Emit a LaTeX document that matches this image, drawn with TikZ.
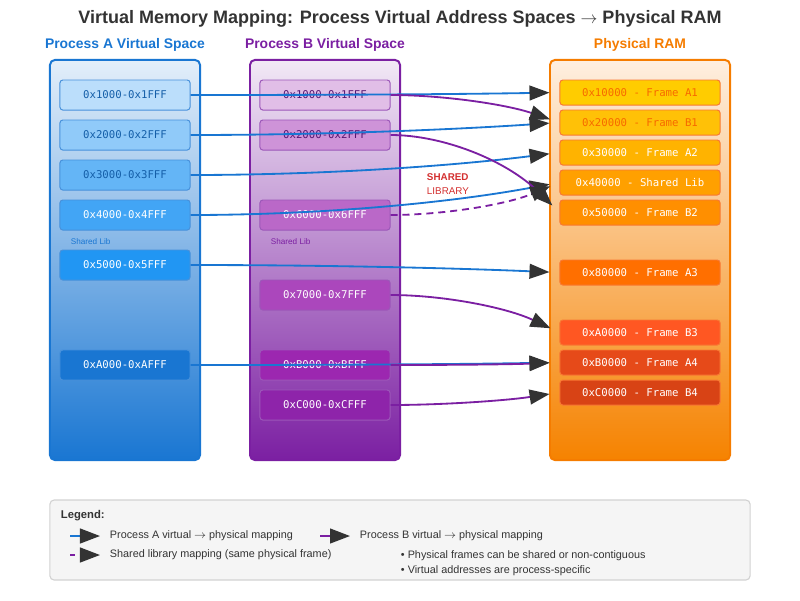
\documentclass[tikz,border=0pt]{standalone}
\usepackage{fontspec}
\setmainfont{Liberation Sans}
\setmonofont{DejaVu Sans Mono}
\usetikzlibrary{arrows.meta,calc}

\definecolor{titlegray}{HTML}{333333}
\definecolor{procA}{HTML}{1976D2}
\definecolor{procB}{HTML}{7B1FA2}
\definecolor{ram}{HTML}{F57C00}
\definecolor{tipgray}{HTML}{333333}
\definecolor{libred}{HTML}{D32F2F}
% page and frame fills
\definecolor{pa1}{HTML}{BBDEFB}\definecolor{pa2}{HTML}{90CAF9}\definecolor{pa3}{HTML}{64B5F6}
\definecolor{pa4}{HTML}{42A5F5}\definecolor{pa5}{HTML}{2196F3}\definecolor{pa10}{HTML}{1976D2}
\definecolor{pb1}{HTML}{E1BEE7}\definecolor{pb2}{HTML}{CE93D8}\definecolor{pb6}{HTML}{BA68C8}
\definecolor{pb7}{HTML}{AB47BC}\definecolor{pb11}{HTML}{9C27B0}\definecolor{pb12}{HTML}{8E24AA}
\definecolor{rA1}{HTML}{FFCC00}\definecolor{rB1}{HTML}{FFC107}\definecolor{rA2}{HTML}{FFB300}
\definecolor{rS}{HTML}{FFA000}\definecolor{rB2}{HTML}{FF8F00}\definecolor{rA3}{HTML}{FF6F00}
\definecolor{rB3}{HTML}{FF5722}\definecolor{rA4}{HTML}{E64A19}\definecolor{rB4}{HTML}{D84315}

\newcommand{\toarrow}{$\rightarrow$}

\begin{document}
\begin{tikzpicture}[x=0.025cm,y=-0.025cm,
    panel/.style={rounded corners=3.5pt,line width=1.4pt,minimum width=3.75cm,minimum height=10cm},
    vbox/.style={rounded corners=2pt,line width=0.7pt,minimum width=3.25cm,minimum height=0.75cm,
      font=\ttfamily\fontsize{7.6}{9}\selectfont},
    abox/.style={vbox,draw=procA!80},
    bbox/.style={vbox,draw=procB!75},
    frame/.style={rounded corners=2pt,line width=0.7pt,draw=ram!70!red!80,minimum width=4cm,minimum height=0.625cm,
      font=\ttfamily\fontsize{7.6}{9}\selectfont},
    head/.style={font=\bfseries\fontsize{9.9}{12}\selectfont},
    small/.style={font=\fontsize{5.8}{7}\selectfont,anchor=west},
    legtext/.style={font=\fontsize{7.7}{9}\selectfont,text=titlegray,anchor=west},
    link/.style={line width=1.3pt,-{Triangle[length=0.5cm,width=0.37cm,color=tipgray]}},
    linkA/.style={link,draw=procA},
    linkB/.style={link,draw=procB},
    linkS/.style={link,draw=procB,dashed,dash pattern=on 5pt off 3.5pt},
    gap/.style={shorten >=0.25cm}]
  \useasboundingbox (0,0) rectangle (800,600);

  % titles
  \node[font=\bfseries\fontsize{12.8}{14}\selectfont,text=titlegray] (title) at (400,19)
    {Virtual Memory Mapping: Process Virtual Address Spaces \toarrow{} Physical RAM};
  \node[head,text=procA] (headA) at (125,45) {Process A Virtual Space};
  \node[head,text=procB] (headB) at (325,45) {Process B Virtual Space};
  \node[head,text=ram] (headR) at (640,45) {Physical RAM};

  % address spaces
  \node[panel,draw=procA,top color=procA!12,bottom color=procA] (spaceA) at (125,260) {};
  \node[panel,draw=procB,top color=procB!10,bottom color=procB] (spaceB) at (325,260) {};
  \node[panel,draw=ram,top color=ram!12,bottom color=ram!95!yellow,minimum width=4.5cm] (spaceR) at (640,260) {};

  % process A pages
  \node[abox,fill=pa1,text=procA!80!black] (a1) at (125,95) {0x1000-0x1FFF};
  \node[abox,fill=pa2,text=procA!80!black] (a2) at (125,135) {0x2000-0x2FFF};
  \node[abox,fill=pa3,text=procA!80!black] (a3) at (125,175) {0x3000-0x3FFF};
  \node[abox,fill=pa4,text=white] (a4) at (125,215) {0x4000-0x4FFF};
  \node[small,text=procA] (libA) at (66,242) {Shared Lib};
  \node[abox,fill=pa5,text=white] (a5) at (125,265) {0x5000-0x5FFF};
  \node[abox,fill=pa10,text=white] (a10) at (125,365) {0xA000-0xAFFF};

  % process B pages
  \node[bbox,fill=pb1,text=procB!70!black] (b1) at (325,95) {0x1000-0x1FFF};
  \node[bbox,fill=pb2,text=procB!70!black] (b2) at (325,135) {0x2000-0x2FFF};
  \node[bbox,fill=pb6,text=white] (b6) at (325,215) {0x6000-0x6FFF};
  \node[small,text=procB] (libB) at (266,242) {Shared Lib};
  \node[bbox,fill=pb7,text=white] (b7) at (325,295) {0x7000-0x7FFF};
  \node[bbox,fill=pb11,text=white] (b11) at (325,365) {0xB000-0xBFFF};
  \node[bbox,fill=pb12,text=white] (b12) at (325,405) {0xC000-0xCFFF};

  % physical frames
  \node[frame,fill=rA1,text=ram!85!red] (fA1) at (640,92.5) {0x10000 - Frame A1};
  \node[frame,fill=rB1,text=ram!85!red] (fB1) at (640,122.5) {0x20000 - Frame B1};
  \node[frame,fill=rA2,text=white] (fA2) at (640,152.5) {0x30000 - Frame A2};
  \node[frame,fill=rS,text=white] (fS) at (640,182.5) {0x40000 - Shared Lib};
  \node[frame,fill=rB2,text=white] (fB2) at (640,212.5) {0x50000 - Frame B2};
  \node[frame,fill=rA3,text=white] (fA3) at (640,272.5) {0x80000 - Frame A3};
  \node[frame,fill=rB3,text=white] (fB3) at (640,332.5) {0xA0000 - Frame B3};
  \node[frame,fill=rA4,text=white] (fA4) at (640,362.5) {0xB0000 - Frame A4};
  \node[frame,fill=rB4,text=white] (fB4) at (640,392.5) {0xC0000 - Frame B4};

  \node[font=\bfseries\fontsize{7}{8}\selectfont,text=libred,anchor=west] (shared) at (422,177) {SHARED};
  \node[font=\fontsize{7}{8}\selectfont,text=libred,anchor=west] (library) at (422,191) {LIBRARY};

  % process A mappings
  \draw[linkA,gap] (a1.east) .. controls +(120,0) and +(-120,2) .. (fA1.west);
  \draw[linkA,gap] (a2.east) .. controls +(120,0) and +(-120,8) .. (fB1.west);
  \draw[linkA,gap] (a3.east) .. controls +(120,0) and +(-120,15) .. (fA2.west);
  \draw[linkA,gap] (a4.east) .. controls +(120,0) and +(-120,22) .. (fS.west);
  \draw[linkA,gap] (a5.east) .. controls +(120,0) and +(-120,-5) .. (fA3.west);
  \draw[linkA,gap] (a10.east) .. controls +(120,0) and +(-120,2) .. (fA4.west);

  % process B mappings
  \draw[linkB,gap] (b1.east) .. controls +(53,0) and +(-53,-18) .. (fB1.west);
  \draw[linkB,gap] (b2.east) .. controls +(53,0) and +(-53,-52) .. (fB2.west);
  \draw[linkS,gap] (b6.east) .. controls +(53,0) and +(-53,22) .. (fS.west);
  \draw[linkB,gap] (b7.east) .. controls +(53,0) and +(-53,-25) .. (fB3.west);
  \draw[linkB,gap] (b11.east) .. controls +(53,0) and +(-53,2) .. (fA4.west);
  \draw[linkB,gap] (b12.east) .. controls +(53,0) and +(-53,8) .. (fB4.west);

  % legend
  \node[draw=gray!35,fill=gray!8,rounded corners=3pt,line width=0.8pt,minimum width=17.5cm,minimum height=2cm] (legend) at (400,540) {};
  \node[font=\bfseries\fontsize{8}{10}\selectfont,text=titlegray,anchor=west] (legtitle) at (56,516) {Legend:};
  \coordinate (lA1) at (70,536);
  \coordinate (lA2) at (100,536);
  \coordinate (lB1) at (320,536);
  \coordinate (lB2) at (350,536);
  \coordinate (lS1) at (70,555);
  \coordinate (lS2) at (100,555);
  \draw[linkA] (lA1) -- (lA2);
  \draw[linkB] (lB1) -- (lB2);
  \draw[linkS,dash pattern=on 3.5pt off 3.5pt] (lS1) -- (lS2);
  \node[legtext] (legA) at (105,536) {Process A virtual \toarrow{} physical mapping};
  \node[legtext] (legB) at (355,536) {Process B virtual \toarrow{} physical mapping};
  \node[legtext] (legS) at (105,555) {Shared library mapping (same physical frame)};
  \node[legtext] (note1) at (396,556) {• Physical frames can be shared or non-contiguous};
  \node[legtext] (note2) at (396,571) {• Virtual addresses are process-specific};
\end{tikzpicture}
\end{document}
